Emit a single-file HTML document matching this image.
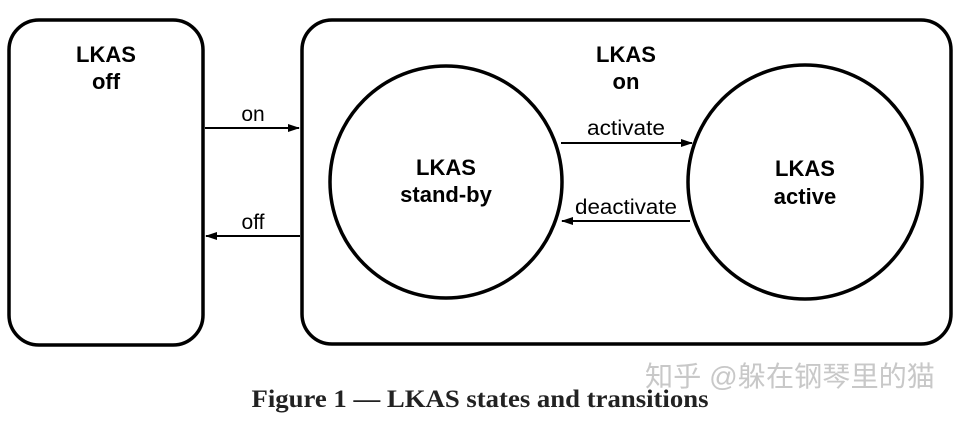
<!DOCTYPE html>
<html><head><meta charset="utf-8"><style>
body{margin:0;background:#fff;width:959px;height:416px;overflow:hidden}
</style></head><body>
<svg width="959" height="416" viewBox="0 0 959 416" xmlns="http://www.w3.org/2000/svg">
<defs><marker id="a" markerWidth="12" markerHeight="8" refX="11" refY="4" orient="auto" markerUnits="userSpaceOnUse"><path d="M0,0 L12,4 L0,8 Z" fill="#000"/></marker></defs>
<g fill="none" stroke="#000" stroke-width="3.5">
<rect x="9" y="20" width="194" height="325" rx="30"/>
<rect x="302" y="20" width="649" height="324" rx="30"/>
<circle cx="446" cy="182" r="116"/>
<circle cx="805" cy="182" r="117"/>
</g>
<g stroke="#000" stroke-width="2">
<line x1="205" y1="128" x2="299" y2="128" marker-end="url(#a)"/>
<line x1="300" y1="236" x2="206" y2="236" marker-end="url(#a)"/>
<line x1="561" y1="143" x2="692" y2="143" marker-end="url(#a)"/>
<line x1="690" y1="221" x2="562" y2="221" marker-end="url(#a)"/>
</g>
<g font-family="Liberation Sans, sans-serif" font-weight="bold" font-size="22" text-anchor="middle" fill="#000">
<text x="106" y="62">LKAS</text><text x="106" y="89">off</text>
<text x="626" y="62">LKAS</text><text x="626" y="89">on</text>
<text x="446" y="175">LKAS</text><text x="446" y="202">stand-by</text>
<text x="805" y="176">LKAS</text><text x="805" y="204">active</text>
</g>
<g font-family="Liberation Sans, sans-serif" font-size="21" text-anchor="middle" fill="#000">
<text x="253" y="121">on</text>
<text x="253" y="229">off</text>
<text x="626" y="135" textLength="78" lengthAdjust="spacingAndGlyphs">activate</text>
<text x="626" y="214" textLength="102" lengthAdjust="spacingAndGlyphs">deactivate</text>
</g>
<text x="790" y="386" font-family="Liberation Sans, 'Noto Sans CJK SC', sans-serif" font-size="28" fill="#c8c8c8" text-anchor="middle" textLength="290" lengthAdjust="spacingAndGlyphs">知乎 @躲在钢琴里的猫</text>
<text x="480" y="407" font-family="Liberation Serif, serif" font-weight="bold" font-size="25" fill="#222" text-anchor="middle" textLength="457" lengthAdjust="spacingAndGlyphs">Figure 1 — LKAS states and transitions</text>
</svg>
</body></html>
